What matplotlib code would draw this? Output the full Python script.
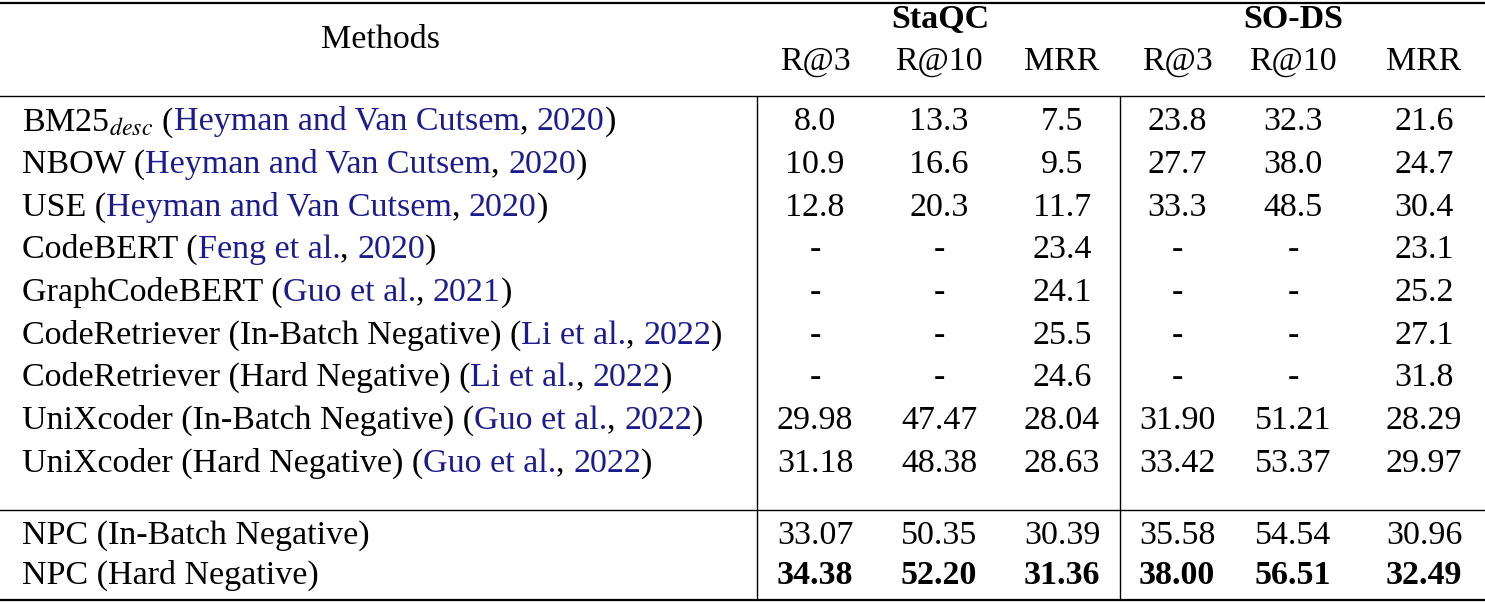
import matplotlib
matplotlib.use("Agg")
import matplotlib.pyplot as plt

plt.rcParams['font.family'] = ['Liberation Serif', 'DejaVu Serif']
plt.rcParams['mathtext.fontset'] = 'stix'

BLUE = '#1c1c8f'

groups = ['StaQC', 'SO-DS']
metrics = ['R@3', 'R@10', 'MRR', 'R@3', 'R@10', 'MRR']

# method name, citation, year
methods = [
    ('BM25$_{desc}$', 'Heyman and Van Cutsem', '2020'),
    ('NBOW', 'Heyman and Van Cutsem', '2020'),
    ('USE', 'Heyman and Van Cutsem', '2020'),
    ('CodeBERT', 'Feng et al.', '2020'),
    ('GraphCodeBERT', 'Guo et al.', '2021'),
    ('CodeRetriever (In-Batch Negative)', 'Li et al.', '2022'),
    ('CodeRetriever (Hard Negative)', 'Li et al.', '2022'),
    ('UniXcoder (In-Batch Negative)', 'Guo et al.', '2022'),
    ('UniXcoder (Hard Negative)', 'Guo et al.', '2022'),
]
scores = [
    ['8.0', '13.3', '7.5', '23.8', '32.3', '21.6'],
    ['10.9', '16.6', '9.5', '27.7', '38.0', '24.7'],
    ['12.8', '20.3', '11.7', '33.3', '48.5', '30.4'],
    ['-', '-', '23.4', '-', '-', '23.1'],
    ['-', '-', '24.1', '-', '-', '25.2'],
    ['-', '-', '25.5', '-', '-', '27.1'],
    ['-', '-', '24.6', '-', '-', '31.8'],
    ['29.98', '47.47', '28.04', '31.90', '51.21', '28.29'],
    ['31.18', '48.38', '28.63', '33.42', '53.37', '29.97'],
]
npc_methods = ['NPC (In-Batch Negative)', 'NPC (Hard Negative)']
npc_scores = [
    ['33.07', '50.35', '30.39', '35.58', '54.54', '30.96'],
    ['34.38', '52.20', '31.36', '38.00', '56.51', '32.49'],
]

W, H = 1485, 604
fig = plt.figure(figsize=(W / 100, H / 100), dpi=100)
ax = fig.add_axes([0, 0, 1, 1])
ax.set_xlim(0, W)
ax.set_ylim(H, 0)
ax.axis('off')
renderer = fig.canvas.get_renderer()
FS = 24.5

col_x = [815, 939, 1062, 1177, 1293, 1424]
row_y = [118, 161, 204, 246, 289, 332, 374, 417, 460]
npc_y = [532, 572]


def draw_parts(x, y, parts):
    inv = ax.transData.inverted()
    for s, c in parts:
        t = ax.text(x, y, s, color=c, fontsize=FS, ha='left', va='center_baseline')
        bb = t.get_window_extent(renderer)
        x = inv.transform((bb.x1, bb.y0))[0]


# rules
ax.plot([0, W], [3, 3], color='k', lw=1.6)
ax.plot([0, W], [96, 96], color='k', lw=1.0)
ax.plot([0, W], [510, 510], color='k', lw=1.0)
ax.plot([0, W], [600, 600], color='k', lw=1.6)
for vx in [757, 1120]:
    ax.plot([vx, vx], [97, 599], color='k', lw=1.0)

# header
ax.text(380, 36, 'Methods', fontsize=FS, ha='center', va='center_baseline')
ax.text(940, 16, groups[0], fontsize=FS, ha='center', va='center_baseline', weight='bold')
ax.text(1293, 16, groups[1], fontsize=FS, ha='center', va='center_baseline', weight='bold')
for x, m in zip(col_x, metrics):
    ax.text(x, 58, m, fontsize=FS, ha='center', va='center_baseline')

for y, (name, cite, year), vals in zip(row_y, methods, scores):
    draw_parts(22, y, [(name + ' (', 'k'), (cite, BLUE), (', ', 'k'), (year, BLUE), (')', 'k')])
    for x, v in zip(col_x, vals):
        ax.text(x, y, v, fontsize=FS, ha='center', va='center_baseline')

for i, (y, name, vals) in enumerate(zip(npc_y, npc_methods, npc_scores)):
    ax.text(22, y, name, fontsize=FS, ha='left', va='center_baseline')
    for x, v in zip(col_x, vals):
        ax.text(x, y, v, fontsize=FS, ha='center', va='center_baseline',
                weight='bold' if i == 1 else 'normal')

fig.savefig('out.png', dpi=100)
